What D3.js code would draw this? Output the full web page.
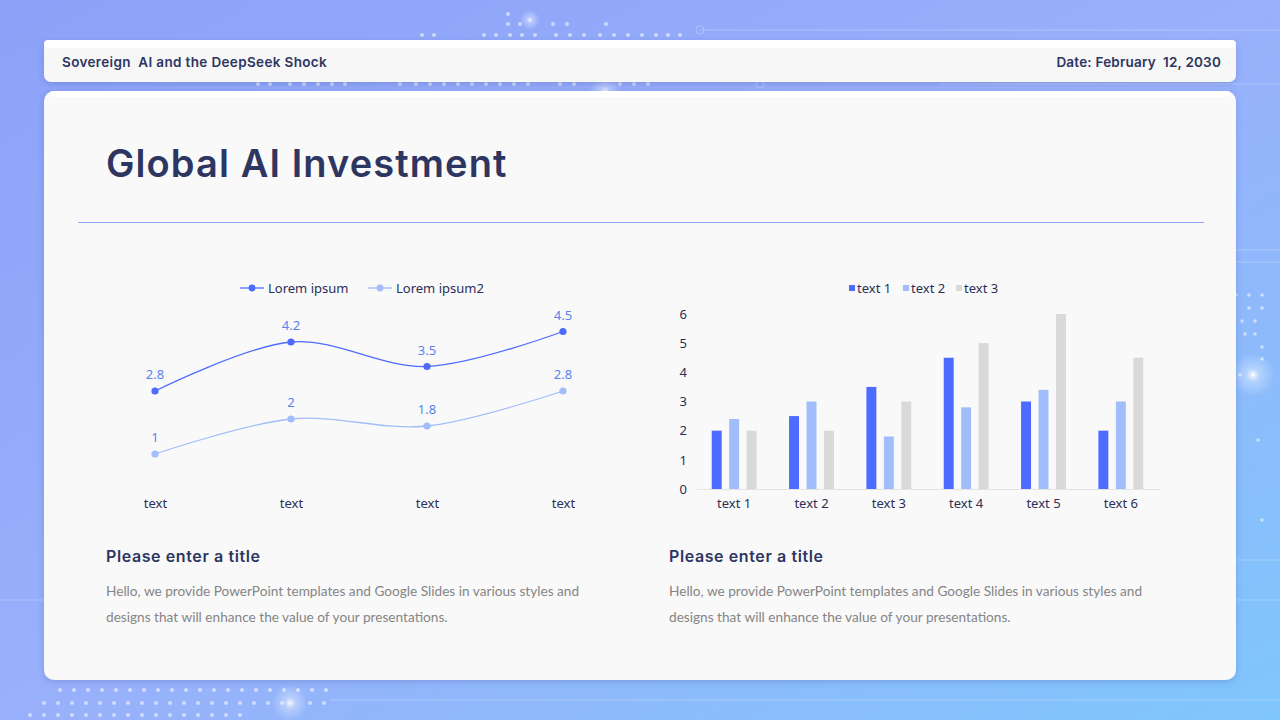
<!DOCTYPE html>
<html><head><meta charset="utf-8">
<script src="https://cdn.jsdelivr.net/npm/d3@7"></script>
<style>html,body{margin:0;padding:0;background:#fff;}svg{display:block;}</style>
</head><body>
<svg id="c" width="1280" height="720"></svg>
<script>
// ---------- data ----------
const headerTitle = "Sovereign  AI and the DeepSeek Shock";
const headerDate = "Date: February  12, 2030";
const pageTitle = "Global AI Investment";

const lineCategories = ["text", "text", "text", "text"];
const lineSeriesNames = ["Lorem ipsum", "Lorem ipsum2"];
const lineSeries1 = [2.8, 4.2, 3.5, 4.5];
const lineSeries2 = [1, 2, 1.8, 2.8];

const barCategories = ["text 1", "text 2", "text 3", "text 4", "text 5", "text 6"];
const barSeriesNames = ["text 1", "text 2", "text 3"];
const barSeries1 = [2, 2.5, 3.5, 4.5, 3, 2];
const barSeries2 = [2.4, 3, 1.8, 2.8, 3.4, 3];
const barSeries3 = [2, 2, 3, 5, 6, 4.5];
const barTicks = [0, 1, 2, 3, 4, 5, 6];

const captionTitles = ["Please enter a title", "Please enter a title"];
const captionLines = ["Hello, we provide PowerPoint templates and Google Slides in various styles and",
                      "designs that will enhance the value of your presentations."];

// ---------- styles ----------
const navy = "#2d3561";
const axisText = "#2b2f55";
const c1 = "#4d6bfe", c2 = "#a2bdfb", c3 = "#d9d9d9";
const labelBlue = "#5a82ec";
const chartFont = "'Noto Sans', 'DejaVu Sans', sans-serif";

const svg = d3.select("#c");
const defs = svg.append("defs");

const bg = defs.append("linearGradient").attr("id", "bg").attr("x1", "0").attr("y1", "0").attr("x2", "1").attr("y2", "1");
bg.append("stop").attr("offset", "0").attr("stop-color", "#8ba2f8");
bg.append("stop").attr("offset", "0.5").attr("stop-color", "#99b0fb");
bg.append("stop").attr("offset", "1").attr("stop-color", "#7fc6fc");

const glow = defs.append("radialGradient").attr("id", "glow");
glow.append("stop").attr("offset", "0").attr("stop-color", "#ffffff").attr("stop-opacity", 0.9);
glow.append("stop").attr("offset", "0.3").attr("stop-color", "#ffffff").attr("stop-opacity", 0.35);
glow.append("stop").attr("offset", "1").attr("stop-color", "#ffffff").attr("stop-opacity", 0);

const sh = defs.append("filter").attr("id", "shadow").attr("x", "-5%").attr("y", "-5%").attr("width", "110%").attr("height", "115%");
sh.append("feDropShadow").attr("dx", 0).attr("dy", 2).attr("stdDeviation", 3).attr("flood-color", "#3a4a9a").attr("flood-opacity", 0.25);

// background
svg.append("rect").attr("width", 1280).attr("height", 720).attr("fill", "url(#bg)");

// faint decorative circuit lines
const deco = svg.append("g").attr("stroke", "#ffffff").attr("fill", "none").attr("stroke-opacity", 0.25);
[[700, 30, 1280, 30], [720, 250, 1280, 250], [1236, 262, 1280, 262], [940, 84, 1280, 84], [1236, 560, 1280, 560], [1236, 600, 1280, 600], [0, 600, 44, 600], [330, 700, 1280, 700]]
  .forEach(l => deco.append("line").attr("x1", l[0]).attr("y1", l[1]).attr("x2", l[2]).attr("y2", l[3]));
deco.append("circle").attr("cx", 700).attr("cy", 30).attr("r", 4);
deco.append("circle").attr("cx", 760).attr("cy", 84).attr("r", 4);

// decorative dots
const dotG = svg.append("g").attr("fill", "#ffffff").attr("fill-opacity", 0.55);
const dotRows = [
  {y: 35, xs: [422, 434, 484, 496, 510, 522, 535, 556, 570, 584, 600, 614, 628, 642, 656, 668, 680]},
  {y: 24, xs: [508, 520, 553, 567, 606]},
  {y: 14, xs: [508]},
  {y: 84, xs: [258, 270, 290, 304, 318, 332, 345, 400, 416, 430, 444, 458, 472, 486, 500, 514, 528, 560, 574, 620, 634, 648]},
  {y: 690, xs: [60, 74, 88, 102, 116, 130, 144, 158, 172, 186, 200, 214, 228, 242, 256, 270, 284, 298, 312, 326]},
  {y: 703, xs: [44, 58, 72, 86, 100, 114, 128, 142, 156, 170, 184, 198, 212, 226, 240, 254, 268, 282, 310, 324]},
  {y: 715, xs: [30, 44, 58, 72, 86, 100, 114, 128, 142, 156, 170, 184, 198, 212, 226, 240]}
];
dotRows.forEach(r => r.xs.forEach(x => dotG.append("circle").attr("cx", x).attr("cy", r.y).attr("r", 2)));
[[1236, 295], [1249, 295], [1262, 295], [1249, 308], [1262, 308], [1242, 321], [1255, 321], [1245, 334], [1255, 334], [1262, 347], [1262, 359], [1240, 375], [1253, 375], [1258, 440], [1262, 520]]
  .forEach(p => dotG.append("circle").attr("cx", p[0]).attr("cy", p[1]).attr("r", 1.8));
[[1253, 375, 22], [290, 703, 18], [605, 92, 16], [530, 20, 10]].forEach(g =>
  svg.append("circle").attr("cx", g[0]).attr("cy", g[1]).attr("r", g[2]).attr("fill", "url(#glow)"));

// header bar
svg.append("rect").attr("x", 44).attr("y", 40).attr("width", 1192).attr("height", 42).attr("rx", 7)
  .attr("fill", "#f7f7f8").attr("filter", "url(#shadow)");
svg.append("rect").attr("x", 44).attr("y", 40).attr("width", 1192).attr("height", 8).attr("rx", 4).attr("fill", "#ffffff");
svg.append("text").attr("x", 62).attr("y", 67).text(headerTitle)
  .attr("font-family", "Inter, 'Open Sans', sans-serif").attr("font-weight", 600).attr("font-size", 13.5)
  .attr("letter-spacing", 0.35).attr("fill", navy).style("white-space", "pre");
svg.append("text").attr("x", 1221).attr("y", 67).attr("text-anchor", "end").text(headerDate)
  .attr("font-family", "Inter, 'Open Sans', sans-serif").attr("font-weight", 600).attr("font-size", 13.5)
  .attr("letter-spacing", 0.2).attr("fill", navy).style("white-space", "pre");

// main card
svg.append("rect").attr("x", 44).attr("y", 91).attr("width", 1192).attr("height", 589).attr("rx", 10)
  .attr("fill", "#f9f9f9").attr("filter", "url(#shadow)");
svg.append("rect").attr("x", 50).attr("y", 91).attr("width", 1180).attr("height", 6).attr("rx", 3).attr("fill", "#ffffff");

svg.append("text").attr("x", 106).attr("y", 177).text(pageTitle)
  .attr("font-family", "Inter, 'Open Sans', sans-serif").attr("font-weight", 600).attr("font-size", 38)
  .attr("letter-spacing", 1.1).attr("fill", navy);
svg.append("line").attr("x1", 78).attr("x2", 1204).attr("y1", 222.5).attr("y2", 222.5)
  .attr("stroke", "#8fa9f3").attr("stroke-width", 1);

// ---------- line chart ----------
const lc = svg.append("g");
const lx = d3.scalePoint().domain(d3.range(lineCategories.length)).range([155, 563]);
const ly = d3.scaleLinear().domain([0, 5]).range([489, 314]);
const lineGen = d3.line().x((d, i) => lx(i)).y(d => ly(d)).curve(d3.curveCardinal.tension(0));
const lineData = [
  {name: lineSeriesNames[0], values: lineSeries1, color: c1},
  {name: lineSeriesNames[1], values: lineSeries2, color: c2}
];
lineData.forEach(s => {
  lc.append("path").attr("d", lineGen(s.values)).attr("fill", "none").attr("stroke", s.color).attr("stroke-width", 1.3);
  lc.selectAll(null).data(s.values).enter().append("circle")
    .attr("cx", (d, i) => lx(i)).attr("cy", d => ly(d)).attr("r", 3.6).attr("fill", s.color);
  lc.selectAll(null).data(s.values).enter().append("text")
    .attr("x", (d, i) => lx(i)).attr("y", d => ly(d) - 12).attr("text-anchor", "middle")
    .attr("font-family", chartFont).attr("font-size", 13).attr("fill", labelBlue).text(d => d);
});
const lxAxis = d3.axisBottom(lx).tickSize(0).tickFormat(i => lineCategories[i]);
lc.append("g").attr("transform", "translate(0,496)").call(lxAxis)
  .call(g => g.select(".domain").remove())
  .call(g => g.selectAll("text").attr("font-family", chartFont).attr("font-size", 13).attr("fill", axisText));

// line legend
const lleg = lc.append("g").attr("transform", "translate(240,288)");
const legX = [0, 128];
lineData.forEach((s, i) => {
  const g = lleg.append("g").attr("transform", `translate(${legX[i]},0)`);
  g.append("line").attr("x1", 0).attr("x2", 24).attr("stroke", s.color).attr("stroke-width", 1.3);
  g.append("circle").attr("cx", 12).attr("r", 3.4).attr("fill", s.color);
  g.append("text").attr("x", 28).attr("y", 5).attr("font-family", chartFont).attr("font-size", 13)
    .attr("fill", axisText).text(s.name);
});

// ---------- bar chart ----------
const bc = svg.append("g");
const bx0 = d3.scaleBand().domain(barCategories).range([695.5, 1159.5]).paddingInner(0.42).paddingOuter(0.21);
const bx1 = d3.scaleBand().domain(d3.range(3)).range([0, bx0.bandwidth()]).paddingInner(0.43);
const by = d3.scaleLinear().domain([0, 6]).range([489, 314]);
const barSeries = [barSeries1, barSeries2, barSeries3];
const barColors = [c1, c2, c3];

bc.append("line").attr("x1", 697).attr("x2", 1160).attr("y1", by(0) + 0.5).attr("y2", by(0) + 0.5)
  .attr("stroke", "#e3e3e3");
barSeries.forEach((vals, si) => {
  bc.selectAll(null).data(vals).enter().append("rect")
    .attr("x", (d, i) => bx0(barCategories[i]) + bx1(si)).attr("width", bx1.bandwidth())
    .attr("y", d => by(d)).attr("height", d => by(0) - by(d)).attr("fill", barColors[si]);
});
const byAxis = d3.axisLeft(by).tickValues(barTicks).tickSize(0).tickFormat(d3.format("d"));
bc.append("g").attr("transform", "translate(690,0)").call(byAxis)
  .call(g => g.select(".domain").remove())
  .call(g => g.selectAll("text").attr("font-family", chartFont).attr("font-size", 13).attr("fill", axisText));
const bxAxis = d3.axisBottom(bx0).tickSize(0);
bc.append("g").attr("transform", "translate(0,496)").call(bxAxis)
  .call(g => g.select(".domain").remove())
  .call(g => g.selectAll("text").attr("font-family", chartFont).attr("font-size", 13).attr("fill", axisText));

const bleg = bc.append("g").attr("transform", "translate(849,288)");
const bLegX = [0, 54, 107];
barSeriesNames.forEach((n, i) => {
  const g = bleg.append("g").attr("transform", `translate(${bLegX[i]},0)`);
  g.append("rect").attr("x", 0).attr("y", -3).attr("width", 6).attr("height", 6).attr("fill", barColors[i]);
  g.append("text").attr("x", 8).attr("y", 5).attr("font-family", chartFont).attr("font-size", 13)
    .attr("fill", axisText).text(n);
});

// ---------- captions ----------
[106, 669].forEach((x, k) => {
  svg.append("text").attr("x", x).attr("y", 562).text(captionTitles[k])
    .attr("font-family", "Inter, 'Open Sans', sans-serif").attr("font-weight", 600).attr("font-size", 16)
    .attr("letter-spacing", 0.6).attr("fill", navy);
  captionLines.forEach((t, j) => {
    svg.append("text").attr("x", x).attr("y", 596 + j * 26).text(t)
      .attr("font-family", "Lato, 'Open Sans', sans-serif").attr("font-size", 13.65).attr("fill", "#858585");
  });
});
</script>
</body></html>
